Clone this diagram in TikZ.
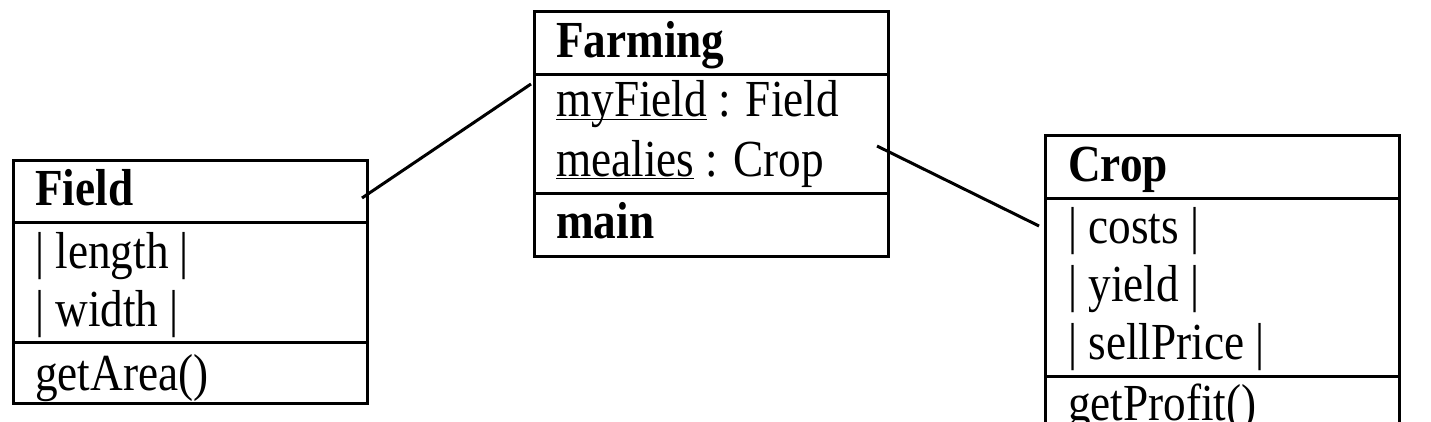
\documentclass[tikz,border=0pt]{standalone}
\usepackage{fontspec}
\setmainfont{Liberation Serif}[FakeStretch=0.87]
\newcommand{\attrname}[1]{\underline{\smash{#1}\vphantom{a}}}
\begin{document}
\begin{tikzpicture}[x=1pt,y=-1pt]
\tikzstyle{box_style} = [draw, line width=3, anchor=north west, inner sep=0, minimum width=354]
\tikzstyle{text_style} = [anchor=base west, inner sep=0, font=\fontsize{52}{58}\selectfont]
\tikzstyle{title_style} = [anchor=base west, inner sep=0, font=\fontsize{52}{58}\selectfont\bfseries]
\tikzstyle{edge_style} = [black, line width=3]
    \clip (0,0) rectangle (1431,422);

    % Field
    \node[box_style, minimum height=62] (f1) at (12,159) {};
    \node[box_style, minimum height=120] (f2) at (12,221) {};
    \node[box_style, minimum height=61] (f3) at (12,341) {};
    \node[title_style] (f11) at (35,205) {Field};
    \node[text_style] (f21) at (35,268) {| length |};
    \node[text_style] (f22) at (35,326) {| width |};
    \node[text_style] (f31) at (35,390) {getArea()};

    % Farming
    \node[box_style, minimum height=63] (m1) at (533,10) {};
    \node[box_style, minimum height=119] (m2) at (533,73) {};
    \node[box_style, minimum height=63] (m3) at (533,192) {};
    \node[title_style] (m11) at (556,58) {Farming};
    \node[text_style] (m21) at (556,117) {\attrname{myField} : Field};
    \node[text_style] (m22) at (556,176) {\attrname{mealies} : Crop};
    \node[title_style] (m31) at (556,238) {main};

    % Crop
    \node[box_style, minimum height=63] (c1) at (1044,134) {};
    \node[box_style, minimum height=178] (c2) at (1044,197) {};
    \node[box_style, minimum height=63] (c3) at (1044,375) {};
    \node[title_style] (c11) at (1068,182) {Crop};
    \node[text_style] (c21) at (1068,243) {| costs |};
    \node[text_style] (c22) at (1068,301) {| yield |};
    \node[text_style] (c23) at (1068,359) {| sellPrice |};
    \node[text_style] (c31) at (1068,420) {getProfit()};

    \coordinate (e1) at (362,198);
    \coordinate (e2) at (531,84);
    \coordinate (e3) at (877,146);
    \coordinate (e4) at (1039,226);

    \draw[edge_style] (e1) -- (e2);
    \draw[edge_style] (e3) -- (e4);
\end{tikzpicture}
\end{document}
